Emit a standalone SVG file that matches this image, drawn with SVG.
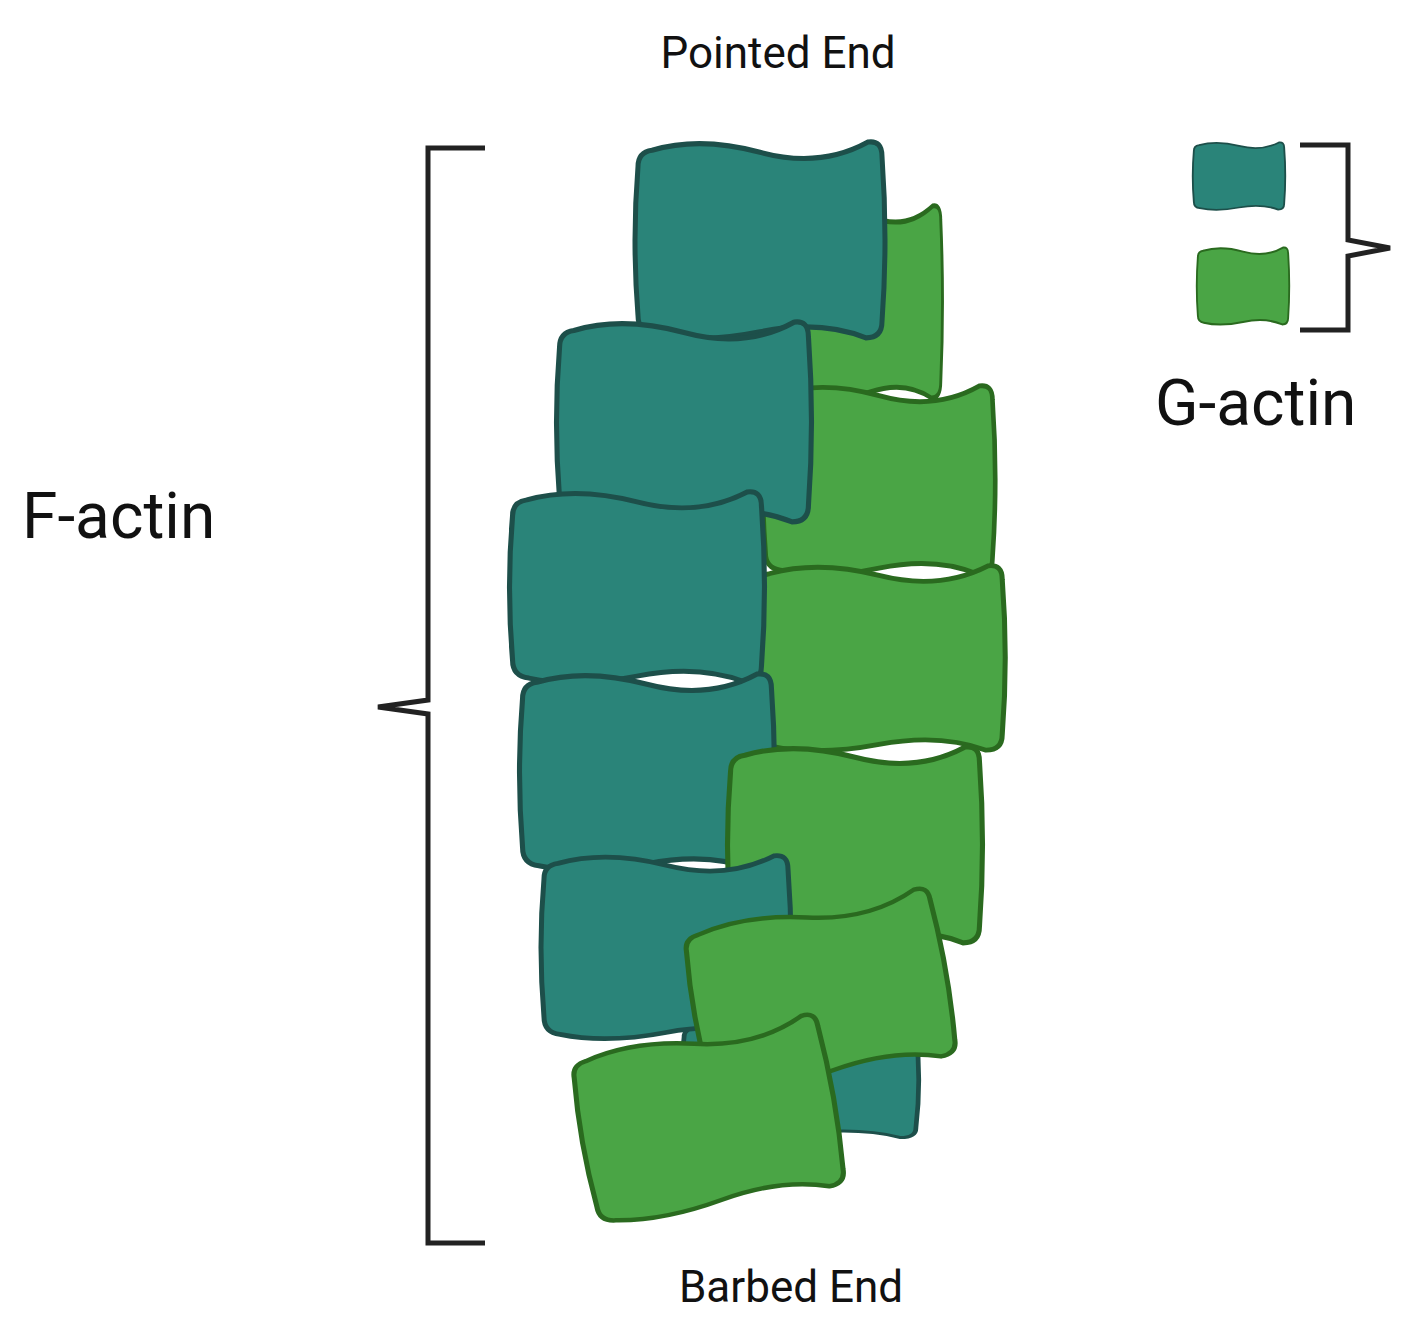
<svg xmlns="http://www.w3.org/2000/svg" width="1410" height="1328" viewBox="0 0 1410 1328">
<style>
.t{fill:#2a8479;stroke:#1d4f4a;stroke-width:5}
.g{fill:#4aa545;stroke:#2a6a1f;stroke-width:5}
.br{fill:none;stroke:#222;stroke-width:5}
text{font-family:Roboto,"Liberation Sans",sans-serif;fill:#111}
</style>
<defs>
<path id="b" d="M-108,-88 Q-60,-102 0,-86 Q60,-70 108,-96 Q122,-98 122,-82 Q128,0 122,80 Q122,96 106,96 Q60,78 0,90 Q-60,102 -106,92 Q-122,90 -122,74 Q-128,0 -122,-72 Q-122,-86 -108,-88 Z"/>
</defs>
<rect width="1410" height="1328" fill="#fff"/>
<g id="filament">
<use href="#b" class="t" transform="translate(800,1080) scale(0.95,0.6)"/>
<use href="#b" class="g" transform="translate(870,302) scale(0.58,1.0)"/>
<use href="#b" class="t" transform="translate(760,240) scale(1.0,1.02)"/>
<use href="#b" class="g" transform="translate(879,480) scale(0.93,0.98)"/>
<use href="#b" class="t" transform="translate(684,422) scale(1.02,1.04)"/>
<use href="#b" class="g" transform="translate(879,658) scale(1.01,0.96)"/>
<use href="#b" class="t" transform="translate(637,587) scale(1.02,0.99)"/>
<use href="#b" class="t" transform="translate(647,772) scale(1.02,1.02)"/>
<use href="#b" class="g" transform="translate(855,845) scale(1.02,1.02)"/>
<use href="#b" class="t" transform="translate(666,947) scale(1.0,0.95)"/>
<use href="#b" class="g" transform="translate(820,992) rotate(-10) scale(1.02,0.88)"/>
<use href="#b" class="g" transform="translate(708,1120) rotate(-10) scale(1.02,0.9)"/>
</g>
<g id="gactin">
<use href="#b" class="t" transform="translate(1239,176) scale(0.37,0.35)"/>
<use href="#b" class="g" transform="translate(1243,286) scale(0.37,0.4)"/>
</g>
<g id="brackets">
<path class="br" d="M485,148 H428 V700 L378,707 L428,714 V1243 H485"/>
<path class="br" d="M1300,145 H1348 V240 L1390,248 L1348,256 V330 H1300"/>
</g>
<text x="778" y="68" font-size="44" text-anchor="middle">Pointed End</text>
<text x="791" y="1302" font-size="44" text-anchor="middle">Barbed End</text>
<text x="22" y="538" font-size="64">F-actin</text>
<text x="1155" y="425" font-size="64">G-actin</text>
</svg>
